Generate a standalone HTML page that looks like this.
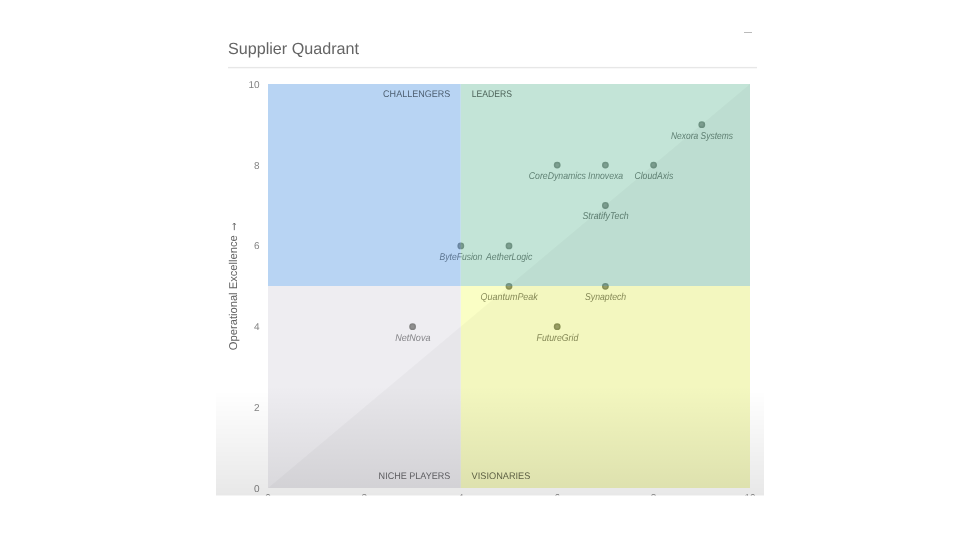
<!DOCTYPE html>
<html><head><meta charset="utf-8"><title>Supplier Quadrant</title>
<style>
html,body{margin:0;padding:0;background:#fff;}
body{width:980px;height:551px;overflow:hidden;position:relative;font-family:"Liberation Sans",sans-serif;}
svg{position:absolute;left:0;top:0;display:block;opacity:.999;will-change:opacity;}
text{font-family:"Liberation Sans",sans-serif;text-rendering:geometricPrecision;}
.tick{font-size:10px;fill:#848484;}
.q{font-size:9.6px;}
.lbl{font-size:9.9px;font-style:italic;}
</style></head><body>
<svg width="980" height="551" viewBox="0 0 980 551">
<defs>
<linearGradient id="fade" x1="0" y1="0" x2="0" y2="1">
<stop offset="0" stop-color="#000" stop-opacity="0"/>
<stop offset="1" stop-color="#000" stop-opacity="0.095"/>
</linearGradient>
<clipPath id="panel"><rect x="216" y="0" width="548" height="495.5"/></clipPath>
<clipPath id="cqb"><rect x="268.0" y="84.0" width="192.8" height="202.0"/></clipPath>
<clipPath id="cqg"><rect x="460.8" y="84.0" width="289.2" height="202.0"/></clipPath>
<clipPath id="cqn"><rect x="268.0" y="286.0" width="192.8" height="202.0"/></clipPath>
<clipPath id="cqy"><rect x="460.8" y="286.0" width="289.2" height="202.0"/></clipPath>
<g id="dots">
<circle cx="701.8" cy="124.7" r="3.4"/>
<circle cx="557.2" cy="165.1" r="3.4"/>
<circle cx="605.4" cy="165.1" r="3.4"/>
<circle cx="653.6" cy="165.1" r="3.4"/>
<circle cx="605.4" cy="205.5" r="3.4"/>
<circle cx="460.8" cy="245.9" r="3.4"/>
<circle cx="509.0" cy="245.9" r="3.4"/>
<circle cx="509.0" cy="286.3" r="3.4"/>
<circle cx="605.4" cy="286.3" r="3.4"/>
<circle cx="412.6" cy="326.7" r="3.4"/>
<circle cx="557.2" cy="326.7" r="3.4"/>
</g>
<g id="dotsi">
<circle cx="701.8" cy="124.7" r="1.9"/>
<circle cx="557.2" cy="165.1" r="1.9"/>
<circle cx="605.4" cy="165.1" r="1.9"/>
<circle cx="653.6" cy="165.1" r="1.9"/>
<circle cx="605.4" cy="205.5" r="1.9"/>
<circle cx="460.8" cy="245.9" r="1.9"/>
<circle cx="509.0" cy="245.9" r="1.9"/>
<circle cx="509.0" cy="286.3" r="1.9"/>
<circle cx="605.4" cy="286.3" r="1.9"/>
<circle cx="412.6" cy="326.7" r="1.9"/>
<circle cx="557.2" cy="326.7" r="1.9"/>
</g>
<g id="labels">
<text class="lbl" x="671.0" y="138.5" textLength="62.0" lengthAdjust="spacingAndGlyphs">Nexora Systems</text>
<text class="lbl" x="528.8" y="178.9" textLength="57.2" lengthAdjust="spacingAndGlyphs">CoreDynamics</text>
<text class="lbl" x="588.0" y="178.9" textLength="35.2" lengthAdjust="spacingAndGlyphs">Innovexa</text>
<text class="lbl" x="634.5" y="178.9" textLength="38.7" lengthAdjust="spacingAndGlyphs">CloudAxis</text>
<text class="lbl" x="582.4" y="219.3" textLength="46.4" lengthAdjust="spacingAndGlyphs">StratifyTech</text>
<text class="lbl" x="439.6" y="259.7" textLength="42.7" lengthAdjust="spacingAndGlyphs">ByteFusion</text>
<text class="lbl" x="486.0" y="259.7" textLength="46.4" lengthAdjust="spacingAndGlyphs">AetherLogic</text>
<text class="lbl" x="480.6" y="300.1" textLength="57.2" lengthAdjust="spacingAndGlyphs">QuantumPeak</text>
<text class="lbl" x="585.0" y="300.1" textLength="41.2" lengthAdjust="spacingAndGlyphs">Synaptech</text>
<text class="lbl" x="395.2" y="340.5" textLength="35.3" lengthAdjust="spacingAndGlyphs">NetNova</text>
<text class="lbl" x="536.6" y="340.5" textLength="41.7" lengthAdjust="spacingAndGlyphs">FutureGrid</text>
</g>
</defs>
<g clip-path="url(#panel)">
<text x="228" y="54.2" font-size="16.3" fill="#646464" textLength="131" lengthAdjust="spacingAndGlyphs">Supplier Quadrant</text>
<rect x="228" y="66.9" width="529" height="1.4" fill="#e7e7e7"/>
<rect x="744" y="32" width="8" height="1" fill="#bababa"/>
<rect x="268.0" y="84.0" width="192.8" height="202.0" fill="#b8d4f3"/>
<rect x="460.8" y="84.0" width="289.2" height="202.0" fill="#c3e4d7"/>
<rect x="268.0" y="286.0" width="192.8" height="202.0" fill="#eeedf1"/>
<rect x="460.8" y="286.0" width="289.2" height="202.0" fill="#fafec5"/>
<g clip-path="url(#cqb)"><use href="#dots" fill="#6885a0"/><use href="#dotsi" fill="#7692ad"/><use href="#labels" fill="#5c7590"/></g>
<g clip-path="url(#cqg)"><use href="#dots" fill="#6f9383"/><use href="#dotsi" fill="#7d9e90"/><use href="#labels" fill="#618275"/></g>
<g clip-path="url(#cqn)"><use href="#dots" fill="#838383"/><use href="#dotsi" fill="#8f8f8f"/><use href="#labels" fill="#86868a"/></g>
<g clip-path="url(#cqy)"><use href="#dots" fill="#8c9455"/><use href="#dotsi" fill="#9da268"/><use href="#labels" fill="#8a8e5a"/></g>
<polygon points="268.0,488.0 750.0,84.0 750.0,488.0" fill="#000" fill-opacity="0.027"/>
<text class="tick" x="259.5" y="491.8" text-anchor="end">0</text>
<text class="tick" x="259.5" y="411.0" text-anchor="end">2</text>
<text class="tick" x="259.5" y="330.2" text-anchor="end">4</text>
<text class="tick" x="259.5" y="249.4" text-anchor="end">6</text>
<text class="tick" x="259.5" y="168.6" text-anchor="end">8</text>
<text class="tick" x="259.5" y="87.8" text-anchor="end">10</text>
<text class="tick" x="268.0" y="501.2" text-anchor="middle">0</text>
<text class="tick" x="364.4" y="501.2" text-anchor="middle">2</text>
<text class="tick" x="460.8" y="501.2" text-anchor="middle">4</text>
<text class="tick" x="557.2" y="501.2" text-anchor="middle">6</text>
<text class="tick" x="653.6" y="501.2" text-anchor="middle">8</text>
<text class="tick" x="750.0" y="501.2" text-anchor="middle">10</text>
<text transform="translate(237.1,350.2) rotate(-90)" font-size="11.3" fill="#606060" textLength="115" lengthAdjust="spacingAndGlyphs">Operational Excellence</text>
<path d="M234.3 230.2V223.3M232.9 224.7L234.3 223L235.7 224.7" fill="none" stroke="#606060" stroke-width="0.9"/>
<text class="q" fill="#4e6072" x="383.1" y="97" textLength="67.2" lengthAdjust="spacingAndGlyphs">CHALLENGERS</text>
<text class="q" fill="#4f655b" x="471.7" y="97" textLength="40.3" lengthAdjust="spacingAndGlyphs">LEADERS</text>
<text class="q" fill="#66666a" x="378.6" y="479.3" textLength="71.7" lengthAdjust="spacingAndGlyphs">NICHE PLAYERS</text>
<text class="q" fill="#686b4c" x="471.6" y="479.3" textLength="58.8" lengthAdjust="spacingAndGlyphs">VISIONARIES</text>
<rect x="216" y="386" width="548" height="110" fill="url(#fade)"/>
</g></svg>
</body></html>
